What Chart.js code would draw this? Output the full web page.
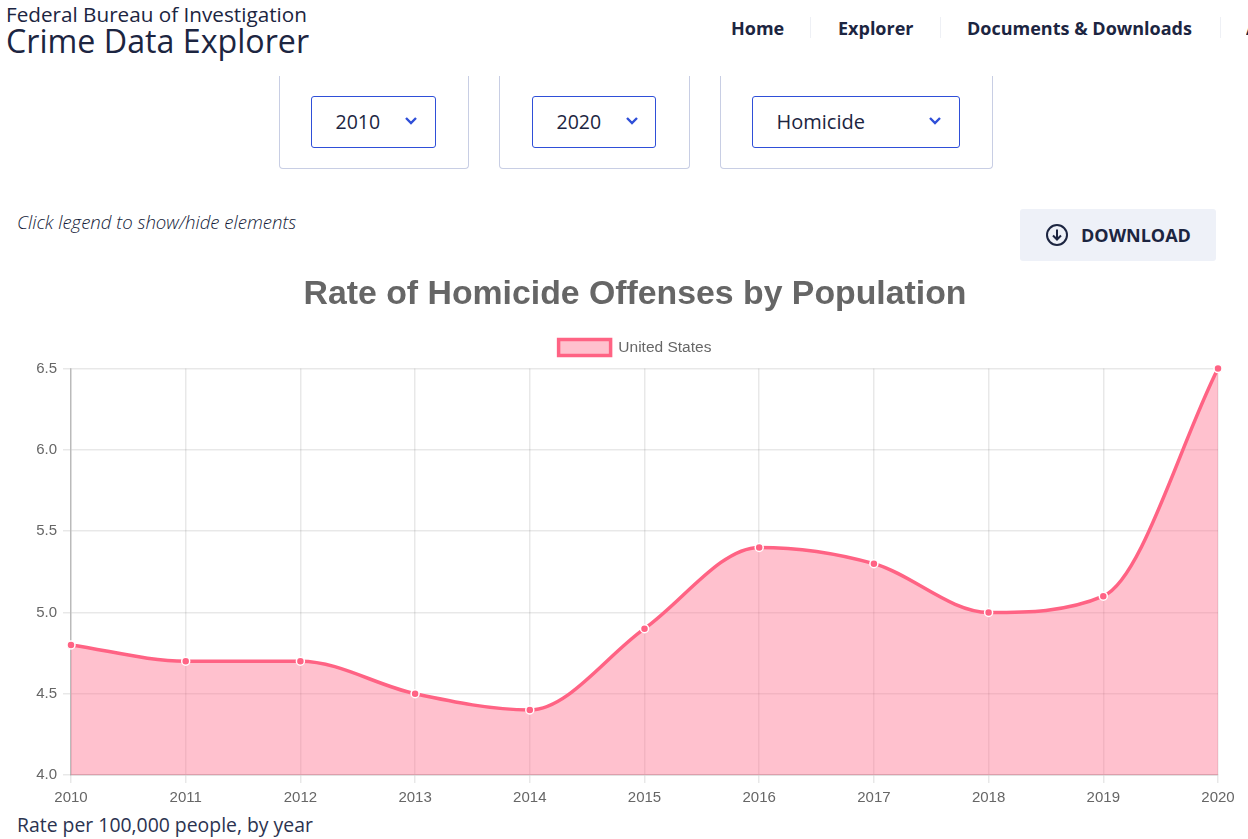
<!DOCTYPE html>
<html>
<head>
<meta charset="utf-8">
<title>Crime Data Explorer</title>
<script src="https://cdn.jsdelivr.net/npm/chart.js@4.4.0/dist/chart.umd.js"></script>
<style>
  html, body { margin: 0; padding: 0; background: #fff; overflow: hidden; width: 1248px; height: 839px; }
  body { position: relative; font-family: "Open Sans", sans-serif; color: #1c2541; }
  .abs { position: absolute; white-space: nowrap; }
  .card { position: absolute; top: 60px; height: 108px; border: 1.5px solid #c8cee4; border-top: 0; border-radius: 0 0 4px 4px; box-sizing: content-box; }
  .pick { position: absolute; top: 96px; height: 50px; border: 1.5px solid #2f4fd8; border-radius: 3px; font-size: 19.5px; line-height: 49px; font-weight: 500; }
  .pick span { position: absolute; left: 23.5px; top: 0; }
  .pick svg { position: absolute; top: 19px; }
  .nav { top: 16px; font-size: 18px; font-weight: 700; line-height: 24px; }
  .sep { position: absolute; top: 17px; width: 1px; height: 21px; background: #eef0f5; }
  #mask { position: absolute; left: 0; top: 0; width: 1248px; height: 76px; background: #fff; }
  #box { position: absolute; left: 0; top: 265px; width: 1270px; height: 545px; }
</style>
</head>
<body>
<div class="card" style="left:279px;width:188px"></div>
<div class="card" style="left:499px;width:189px"></div>
<div class="card" style="left:720px;width:271px"></div>
<div id="mask"></div>

<div class="abs" style="left:6px;top:1px;font-size:20.7px;line-height:26px">Federal Bureau of Investigation</div>
<div class="abs" style="left:6px;top:20px;font-size:32.2px;line-height:42px">Crime Data Explorer</div>

<div class="abs nav" style="left:731px">Home</div>
<div class="sep" style="left:810px"></div>
<div class="abs nav" style="left:838px">Explorer</div>
<div class="sep" style="left:940px"></div>
<div class="abs nav" style="left:967px">Documents &amp; Downloads</div>
<div class="sep" style="left:1220px"></div>
<div class="abs nav" style="left:1246px;width:2px;overflow:hidden">About</div>

<div class="pick" style="left:311px;width:123px"><span>2010</span><svg width="14" height="10" style="left:92px"><path d="M2 2l5 5 5-5" fill="none" stroke="#2f4fd8" stroke-width="2.4"/></svg></div>
<div class="pick" style="left:532px;width:122px"><span>2020</span><svg width="14" height="10" style="left:92px"><path d="M2 2l5 5 5-5" fill="none" stroke="#2f4fd8" stroke-width="2.4"/></svg></div>
<div class="pick" style="left:752px;width:206px"><span style="font-size:20px">Homicide</span><svg width="14" height="10" style="left:175px"><path d="M2 2l5 5 5-5" fill="none" stroke="#2f4fd8" stroke-width="2.4"/></svg></div>

<div class="abs" style="left:17px;top:210px;font-size:18.6px;line-height:24px;font-style:italic;font-weight:300;color:#141b38">Click legend to show/hide elements</div>

<div class="abs" style="left:1020px;top:209px;width:196px;height:52px;background:#eef1f8;border-radius:3px"></div>
<svg class="abs" style="left:1045px;top:223px" width="24" height="24" viewBox="0 0 24 24"><circle cx="12" cy="12" r="10" fill="none" stroke="#1c2541" stroke-width="2"/><path d="M12 6.5v10M8 12.5l4 4 4-4" fill="none" stroke="#1c2541" stroke-width="2"/></svg>
<div class="abs" style="left:1081px;top:223px;font-size:18px;line-height:24px;font-weight:700">DOWNLOAD</div>

<div id="box"><canvas id="chart"></canvas></div>

<div class="abs" style="left:17px;top:812px;font-size:19.4px;line-height:25px;color:#2b3350">Rate per 100,000 people, by year</div>

<script>
const years = ['2010', '2011', '2012', '2013', '2014', '2015', '2016', '2017', '2018', '2019', '2020'];
const homicideRate = [4.8, 4.7, 4.7, 4.5, 4.4, 4.9, 5.4, 5.3, 5.0, 5.1, 6.5];
const seriesName = 'United States';
const chartTitle = 'Rate of Homicide Offenses by Population';

Chart.defaults.font.family = '"Liberation Sans", Arial, sans-serif';
Chart.defaults.color = '#666';

new Chart(document.getElementById('chart'), {
    type: 'line',
    data: {
        labels: years,
        datasets: [{
            label: seriesName,
            data: homicideRate,
            borderColor: 'rgb(255, 99, 132)',
            backgroundColor: 'rgba(255, 99, 132, 0.4)',
            borderWidth: 3.5,
            fill: true,
            cubicInterpolationMode: 'monotone',
            pointRadius: 4,
            pointBorderWidth: 1.5,
            pointBorderColor: '#fff',
            pointBackgroundColor: 'rgb(255, 99, 132)',
            clip: false
        }]
    },
    options: {
        responsive: true,
        maintainAspectRatio: false,
        animation: false,
        plugins: {
            title: {
                display: true,
                text: chartTitle,
                color: '#666',
                font: { size: 33.8, weight: 'bold' },
                padding: { top: 9, bottom: 16.5 }
            },
            legend: {
                labels: {
                    boxWidth: 52,
                    boxHeight: 16,
                    font: { size: 15.5 },
                    color: '#666',
                    padding: 8.5
                }
            },
            tooltip: { enabled: false }
        },
        scales: {
            x: {
                grid: { color: 'rgba(0, 0, 0, 0.09)', lineWidth: 1.5 },
                border: { color: 'rgba(0, 0, 0, 0.15)', width: 1.5 },
                ticks: { font: { size: 15 }, maxRotation: 0, autoSkip: false, padding: 6 },
                afterFit(scale) { scale.height = 35; }
            },
            y: {
                min: 4,
                max: 6.5,
                grid: { color: 'rgba(0, 0, 0, 0.09)', lineWidth: 1.5 },
                border: { color: 'rgba(0, 0, 0, 0.2)', width: 1.5 },
                ticks: { stepSize: 0.5, font: { size: 15 }, padding: 6, callback: v => v.toFixed(1) },
                afterFit(scale) { scale.width = 71; }
            },
            // empty axis on the right so title and legend stay centred on the full canvas
            spacer: {
                position: 'right',
                grid: { display: false },
                border: { display: false },
                ticks: { display: false },
                afterFit(scale) { scale.width = 52; }
            },
            // small gap between legend and plot
            spacerTop: {
                position: 'top',
                grid: { display: false },
                border: { display: false },
                ticks: { display: false },
                afterFit(scale) { scale.height = 3; }
            }
        }
    }
});
</script>
</body>
</html>
